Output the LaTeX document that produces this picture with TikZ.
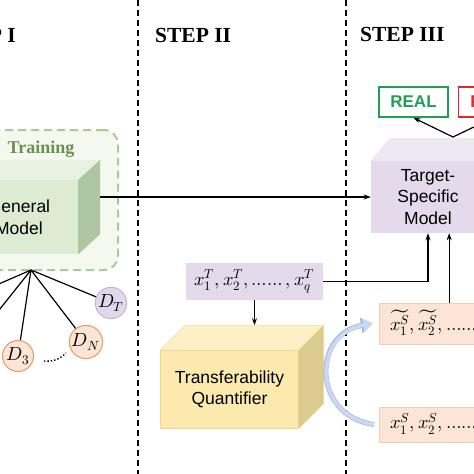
\documentclass[tikz,border=0pt]{standalone}
\usepackage{fontspec}
\usepackage{unicode-math}
\setmainfont{Liberation Serif}
\setsansfont{Liberation Sans}
\usepackage{tikz}
\usetikzlibrary{shapes,arrows.meta,positioning,fit,backgrounds}

\definecolor{trainfill}{HTML}{F4F8EF}
\definecolor{trainedge}{HTML}{AACB95}
\definecolor{traintext}{HTML}{6A8F4E}
\definecolor{gmfront}{HTML}{DCEBD2}
\definecolor{gmtop}{HTML}{E9F2E2}
\definecolor{gmside}{HTML}{AFC6A2}
\definecolor{purplefill}{HTML}{E4DAEC}
\definecolor{purpletop}{HTML}{EEE8F3}
\definecolor{purpleside}{HTML}{CFC2DB}
\definecolor{yfront}{HTML}{FCE9AE}
\definecolor{ytop}{HTML}{FDF0C6}
\definecolor{yside}{HTML}{DCCB8E}
\definecolor{yedge}{HTML}{F1D886}
\definecolor{peach}{HTML}{FCE4D6}
\definecolor{peachedge}{HTML}{F5CBB2}
\definecolor{dsetedge}{HTML}{E49A63}
\definecolor{dtfill}{HTML}{E2D8EB}
\definecolor{dtedge}{HTML}{C2B5D3}
\definecolor{realgreen}{HTML}{1E9E57}
\definecolor{fakered}{HTML}{E3262B}
\definecolor{augfill}{HTML}{CBD8F0}
\definecolor{augedge}{HTML}{A3B8E0}

\begin{document}
\begin{tikzpicture}[
    x=1pt, y=-1pt,
    stephead/.style={font=\fontsize{21.5}{24}\selectfont\bfseries, inner sep=0pt},
    sep/.style={line width=1.4pt, dash pattern=on 6pt off 4pt},
    trainbox/.style={rectangle, draw=trainedge, fill=trainfill, line width=2pt, dash pattern=on 8pt off 5pt, rounded corners=14pt},
    cubefront/.style={rectangle, inner sep=0pt, align=center, font=\sffamily\fontsize{17.5}{21.5}\selectfont},
    dset/.style={circle, draw=dsetedge, fill=peach, line width=1pt, minimum size=31pt, inner sep=0pt, font=\fontsize{19}{20}\selectfont},
    vecbox/.style={rectangle, inner sep=0pt, font=\fontsize{18.5}{21}\selectfont},
    verdict/.style={rectangle, line width=1.6pt, minimum width=69pt, minimum height=30pt, inner sep=0pt, font=\sffamily\bfseries\fontsize{17}{20}\selectfont},
    arrow/.style={-{Stealth[length=7pt,width=5pt]}, line width=1.2pt},
    spoke/.style={line width=1.2pt},
    augarrow/.style={preaction={draw=augedge, line width=5pt, -{Triangle[length=12pt,width=15pt]}}, draw=augfill, line width=3.6pt, -{Triangle[length=10pt,width=12.5pt]}}
]

% Canvas
\useasboundingbox (0,0) rectangle (474,474);
\clip (0,0) rectangle (474,474);
\fill[white] (0,0) rectangle (474,474);

% Step separators and titles
\draw[sep] (138,0) -- (138,474);
\draw[sep] (346,0) -- (346,474);
\node[stephead, anchor=base east] (step1) at (16,42) {STEP I};
\node[stephead, anchor=base west] (step2) at (155,42) {STEP II};
\node[stephead, anchor=base west] (step3) at (360,41) {STEP III};

% Step I: training of the general model
\node[trainbox, minimum width=154pt, minimum height=140pt] (training) at (41,200) {};
\node[font=\fontsize{18}{20}\selectfont\bfseries, text=traintext, anchor=base] (trainlabel) at (41,153) {Training};
\node[cubefront, fill=gmfront, minimum width=118pt, minimum height=74pt] (gm) at (19,217) {General\\Model};
\fill[gmtop] (gm.north west) -- ++(22,-20) -- ([shift={(22,-20)}]gm.north east) -- (gm.north east) -- cycle;
\fill[gmside] (gm.north east) -- ++(22,-20) -- ([shift={(22,-20)}]gm.south east) -- (gm.south east) -- cycle;

% Data sets
\coordinate (hub) at (31,270);
\node[dset] (d1) at (-38,300) {$D_1$};
\node[dset] (d2) at (-20,334) {$D_2$};
\node[dset] (d3) at (18,356) {$D_3$};
\node[dset] (dn) at (86,342) {$D_N$};
\node[dset, fill=dtfill, draw=dtedge] (dt) at (111,303) {$D_T$};
\foreach \d in {d1,d2,d3,dn,dt}
    \draw[spoke] (hub) -- (\d);
\draw[line width=1.4pt, dotted] (d3.east) ++(10,5) to[bend right=25] ++(22,-8);

% Step II: transferability quantifier
\node[vecbox, fill=purplefill, minimum width=137pt, minimum height=37pt] (xt) at (254.5,281.5) {$x_1^T, x_2^T, \ldots\!\ldots, x_q^T$};
\node[cubefront, fill=yfront, draw=yedge, minimum width=138pt, minimum height=78pt, below=50pt of xt, xshift=-25pt] (quant) {Transferability\\Quantifier};
\filldraw[fill=ytop, draw=yedge] (quant.north west) -- ++(25,-25) -- ([shift={(25,-25)}]quant.north east) -- (quant.north east) -- cycle;
\filldraw[fill=yside, draw=yedge] (quant.north east) -- ++(25,-25) -- ([shift={(25,-25)}]quant.south east) -- (quant.south east) -- cycle;
\draw[arrow] (xt.south) -- ([shift={(25,-25)}]quant.north);

% Step III: target-specific model
\node[cubefront, fill=purplefill, minimum width=114pt, minimum height=72pt] (target) at (428,197) {Target-\\Specific\\Model};
\fill[purpletop] (target.north west) -- ++(19,-23) -- ([shift={(19,-23)}]target.north east) -- (target.north east) -- cycle;
\fill[purpleside] (target.north east) -- ++(19,-23) -- ([shift={(19,-23)}]target.south east) -- (target.south east) -- cycle;
\node[verdict, draw=realgreen, text=realgreen] (real) at (413.5,102) {REAL};
\node[verdict, draw=fakered, text=fakered, right=9pt of real] (fake) {FAKE};
\coordinate (split) at (453,137);
\node[vecbox, fill=peach, draw=peachedge, minimum width=140pt, minimum height=41pt, anchor=west] (xst) at (379,323.5) {$\widetilde{x_1^S}, \widetilde{x_2^S}, \ldots\!\ldots, \widetilde{x_p^S}$};
\node[vecbox, fill=peach, draw=peachedge, minimum width=140pt, minimum height=35pt, anchor=west] (xs) at (379,424.5) {$x_1^S, x_2^S, \ldots\!\ldots, x_p^S$};

% Connections
\draw[arrow] ([shift={(22,-20)}]gm.east) -- (target.west);
\draw[arrow] (xt.east) -| (target.south);
\draw[arrow] (xst.north) -- (xst.north |- target.south);
\draw[arrow] (split) -- (real.south);
\draw[arrow] (split) -- (fake.south);
\draw[augarrow] ([xshift=-5pt]xs.west) .. controls (312,416) and (312,334) .. ([xshift=-6pt]xst.west);

\end{tikzpicture}
\end{document}
